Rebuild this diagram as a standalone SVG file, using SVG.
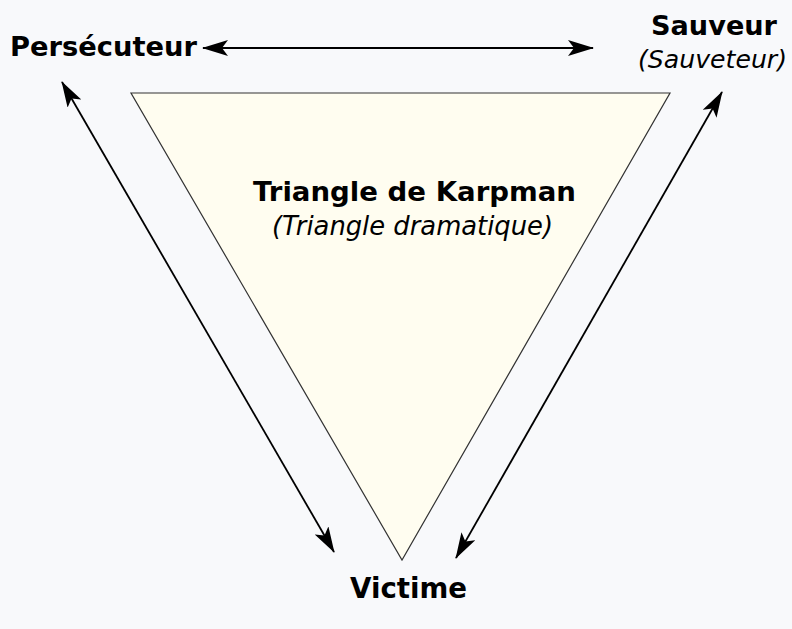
<svg xmlns="http://www.w3.org/2000/svg" width="792" height="629" viewBox="0 0 792 629">
<style>
.b{font-family:"DejaVu Sans",sans-serif;font-weight:bold;fill:#000}
.i{font-family:"DejaVu Sans",sans-serif;font-style:italic;fill:#000}
.c{stroke:#000;stroke-width:1.8;fill:none;marker-start:url(#a);marker-end:url(#a)}
</style>
<defs>
<marker id="a" viewBox="0 0 26 16" refX="25" refY="8" markerWidth="26" markerHeight="16" markerUnits="userSpaceOnUse" orient="auto-start-reverse">
<path d="M0,0 L26,8 L0,16 L6,8 Z" fill="#000"/>
</marker>
</defs>
<rect width="792" height="629" fill="#f8f9fb"/>
<g id="triangle">
<path d="M131,93 L670,93 L402,560 Z" fill="#fffdf0" stroke="#333" stroke-width="1.2"/>
<text class="b" x="253" y="201" font-size="27" textLength="323" lengthAdjust="spacingAndGlyphs">Triangle de Karpman</text>
<text class="i" x="272" y="235" font-size="26" textLength="281" lengthAdjust="spacingAndGlyphs">(Triangle dramatique)</text>
</g>
<g id="persecuteur"><text class="b" x="10" y="56" font-size="26" textLength="187" lengthAdjust="spacingAndGlyphs">Persécuteur</text></g>
<g id="sauveur">
<text class="b" x="651" y="35" font-size="27" textLength="126" lengthAdjust="spacingAndGlyphs">Sauveur</text>
<text class="i" x="638" y="68" font-size="25" textLength="149" lengthAdjust="spacingAndGlyphs">(Sauveteur)</text>
</g>
<g id="victime"><text class="b" x="350" y="598" font-size="28" textLength="117" lengthAdjust="spacingAndGlyphs">Victime</text></g>
<g id="connectors">
<line class="c" x1="203" y1="48" x2="593" y2="48"/>
<line class="c" x1="62" y1="82" x2="334" y2="552"/>
<line class="c" x1="722" y1="92" x2="456" y2="558"/>
</g>
</svg>
